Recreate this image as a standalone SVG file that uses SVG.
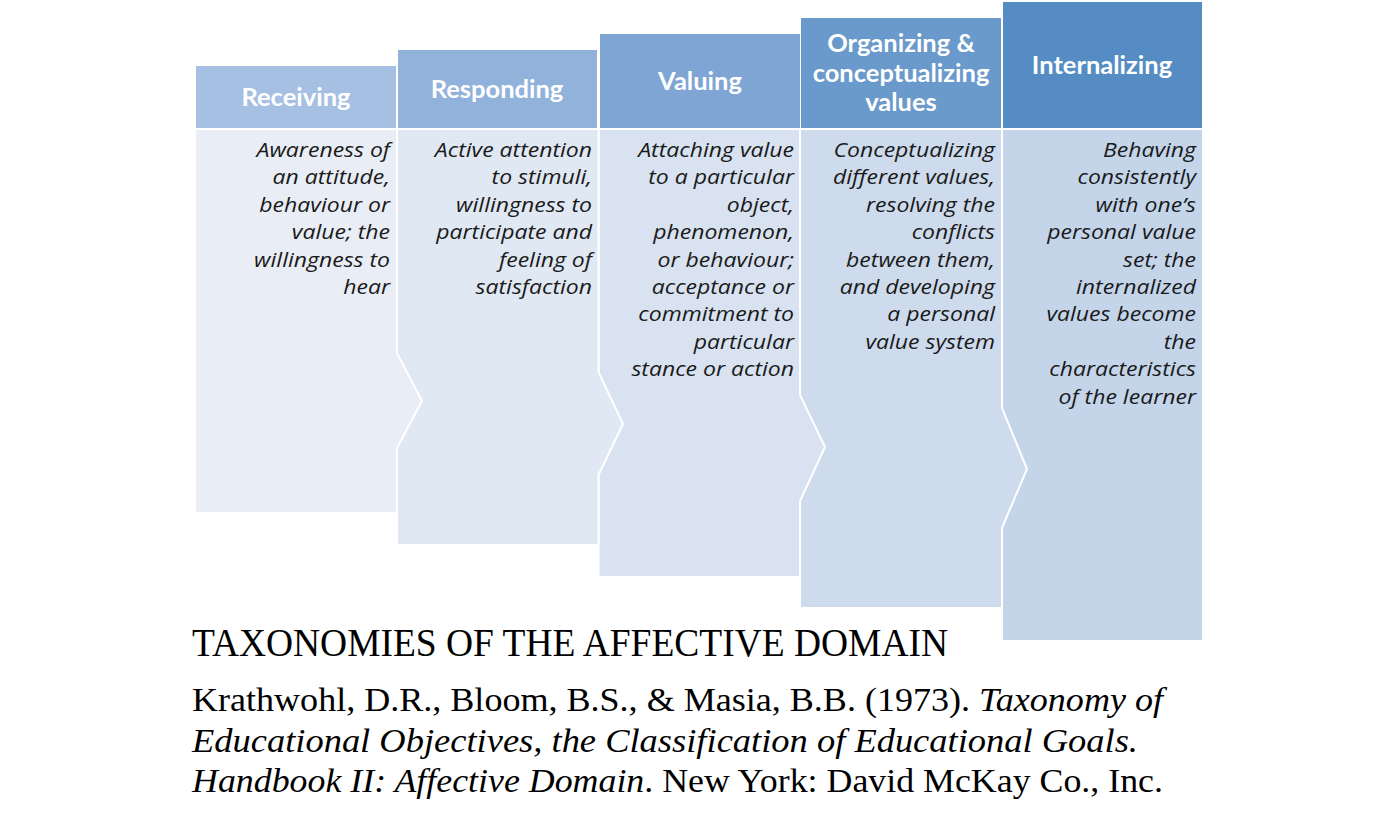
<svg xmlns="http://www.w3.org/2000/svg" width="1398" height="820" viewBox="0 0 1398 820">
<style>
.hd{font-family:Lato,"Open Sans",sans-serif;font-weight:bold;font-size:25.5px;fill:#fff;text-anchor:middle}
.bd{font-family:"Open Sans",Lato,sans-serif;font-style:italic;font-size:19.5px;fill:#1a1a1a;text-anchor:end}
.bx{stroke:#fff;stroke-width:2}
.tt{font-family:"Liberation Serif","Times New Roman",serif;fill:#000}
</style>
<rect width="1398" height="820" fill="#fff"/>
<g id="bodies">
<polygon id="body5" class="bx" fill="#C4D5EA" points="1002,129 1203,129 1203,641 1002,641"/>
<polygon id="body4" class="bx" fill="#CEDBED" points="800,129 1002,129 1002,408 1027,469 1002,528 1002,608 800,608"/>
<polygon id="body3" class="bx" fill="#D8E2F0" points="598.5,129 800,129 800,395 825,447 800,501 800,577 598.5,577"/>
<polygon id="body2" class="bx" fill="#E0E8F3" points="397,129 598.5,129 598.5,372 623,424 598.5,475 598.5,545 397,545"/>
<polygon id="body1" class="bx" fill="#E9EEF6" points="195,129 397,129 397,353 422,401 397,448 397,513 195,513"/>
</g>
<g id="n1">
<rect x="196" y="66" width="200" height="62" fill="#A5C0E2"/>
<text class="hd" x="296" y="106">Receiving</text>
<g transform="translate(390,0) scale(1.18,1)"><text class="bd" y="157"><tspan x="0">Awareness of</tspan><tspan x="0" dy="27.4">an attitude,</tspan><tspan x="0" dy="27.4">behaviour or</tspan><tspan x="0" dy="27.4">value; the</tspan><tspan x="0" dy="27.4">willingness to</tspan><tspan x="0" dy="27.4">hear</tspan></text></g>
</g>
<g id="n2">
<rect x="398" y="50" width="199" height="78" fill="#91B2DB"/>
<text class="hd" x="497" y="98">Responding</text>
<g transform="translate(592,0) scale(1.18,1)"><text class="bd" y="157"><tspan x="0">Active attention</tspan><tspan x="0" dy="27.4">to stimuli,</tspan><tspan x="0" dy="27.4">willingness to</tspan><tspan x="0" dy="27.4">participate and</tspan><tspan x="0" dy="27.4">feeling of</tspan><tspan x="0" dy="27.4">satisfaction</tspan></text></g>
</g>
<g id="n3">
<rect x="600" y="34" width="200" height="94" fill="#7EA5D4"/>
<text class="hd" x="700" y="90">Valuing</text>
<g transform="translate(794,0) scale(1.18,1)"><text class="bd" y="157"><tspan x="0">Attaching value</tspan><tspan x="0" dy="27.4">to a particular</tspan><tspan x="0" dy="27.4">object,</tspan><tspan x="0" dy="27.4">phenomenon,</tspan><tspan x="0" dy="27.4">or behaviour;</tspan><tspan x="0" dy="27.4">acceptance or</tspan><tspan x="0" dy="27.4">commitment to</tspan><tspan x="0" dy="27.4">particular</tspan><tspan x="0" dy="27.4">stance or action</tspan></text></g>
</g>
<g id="n4">
<rect x="801" y="18" width="200" height="110" fill="#6A99CB"/>
<text class="hd" x="901" y="52"><tspan x="901">Organizing &amp;</tspan><tspan x="901" dy="29.5">conceptualizing</tspan><tspan x="901" dy="29.5">values</tspan></text>
<g transform="translate(995,0) scale(1.18,1)"><text class="bd" y="157"><tspan x="0">Conceptualizing</tspan><tspan x="0" dy="27.4">different values,</tspan><tspan x="0" dy="27.4">resolving the</tspan><tspan x="0" dy="27.4">conflicts</tspan><tspan x="0" dy="27.4">between them,</tspan><tspan x="0" dy="27.4">and developing</tspan><tspan x="0" dy="27.4">a personal</tspan><tspan x="0" dy="27.4">value system</tspan></text></g>
</g>
<g id="n5">
<rect x="1003" y="2" width="199" height="126" fill="#558CC3"/>
<text class="hd" x="1102" y="74">Internalizing</text>
<g transform="translate(1196,0) scale(1.18,1)"><text class="bd" y="157"><tspan x="0">Behaving</tspan><tspan x="0" dy="27.4">consistently</tspan><tspan x="0" dy="27.4">with one’s</tspan><tspan x="0" dy="27.4">personal value</tspan><tspan x="0" dy="27.4">set; the</tspan><tspan x="0" dy="27.4">internalized</tspan><tspan x="0" dy="27.4">values become</tspan><tspan x="0" dy="27.4">the</tspan><tspan x="0" dy="27.4">characteristics</tspan><tspan x="0" dy="27.4">of the learner</tspan></text></g>
</g>
<g id="connectors"></g>
<g id="caption">
<text class="tt" x="192" y="656" font-size="40" textLength="756" lengthAdjust="spacingAndGlyphs">TAXONOMIES OF THE AFFECTIVE DOMAIN</text>
<text class="tt" x="192" y="711" font-size="33" textLength="971" lengthAdjust="spacingAndGlyphs">Krathwohl, D.R., Bloom, B.S., &amp; Masia, B.B. (1973). <tspan font-style="italic">Taxonomy of</tspan></text>
<text class="tt" x="192" y="752" font-size="33" font-style="italic" textLength="946" lengthAdjust="spacingAndGlyphs">Educational Objectives, the Classification of Educational Goals.</text>
<text class="tt" x="192" y="792" font-size="33" textLength="971" lengthAdjust="spacingAndGlyphs"><tspan font-style="italic">Handbook II: Affective Domain</tspan>. New York: David McKay Co., Inc.</text>
</g>
</svg>
